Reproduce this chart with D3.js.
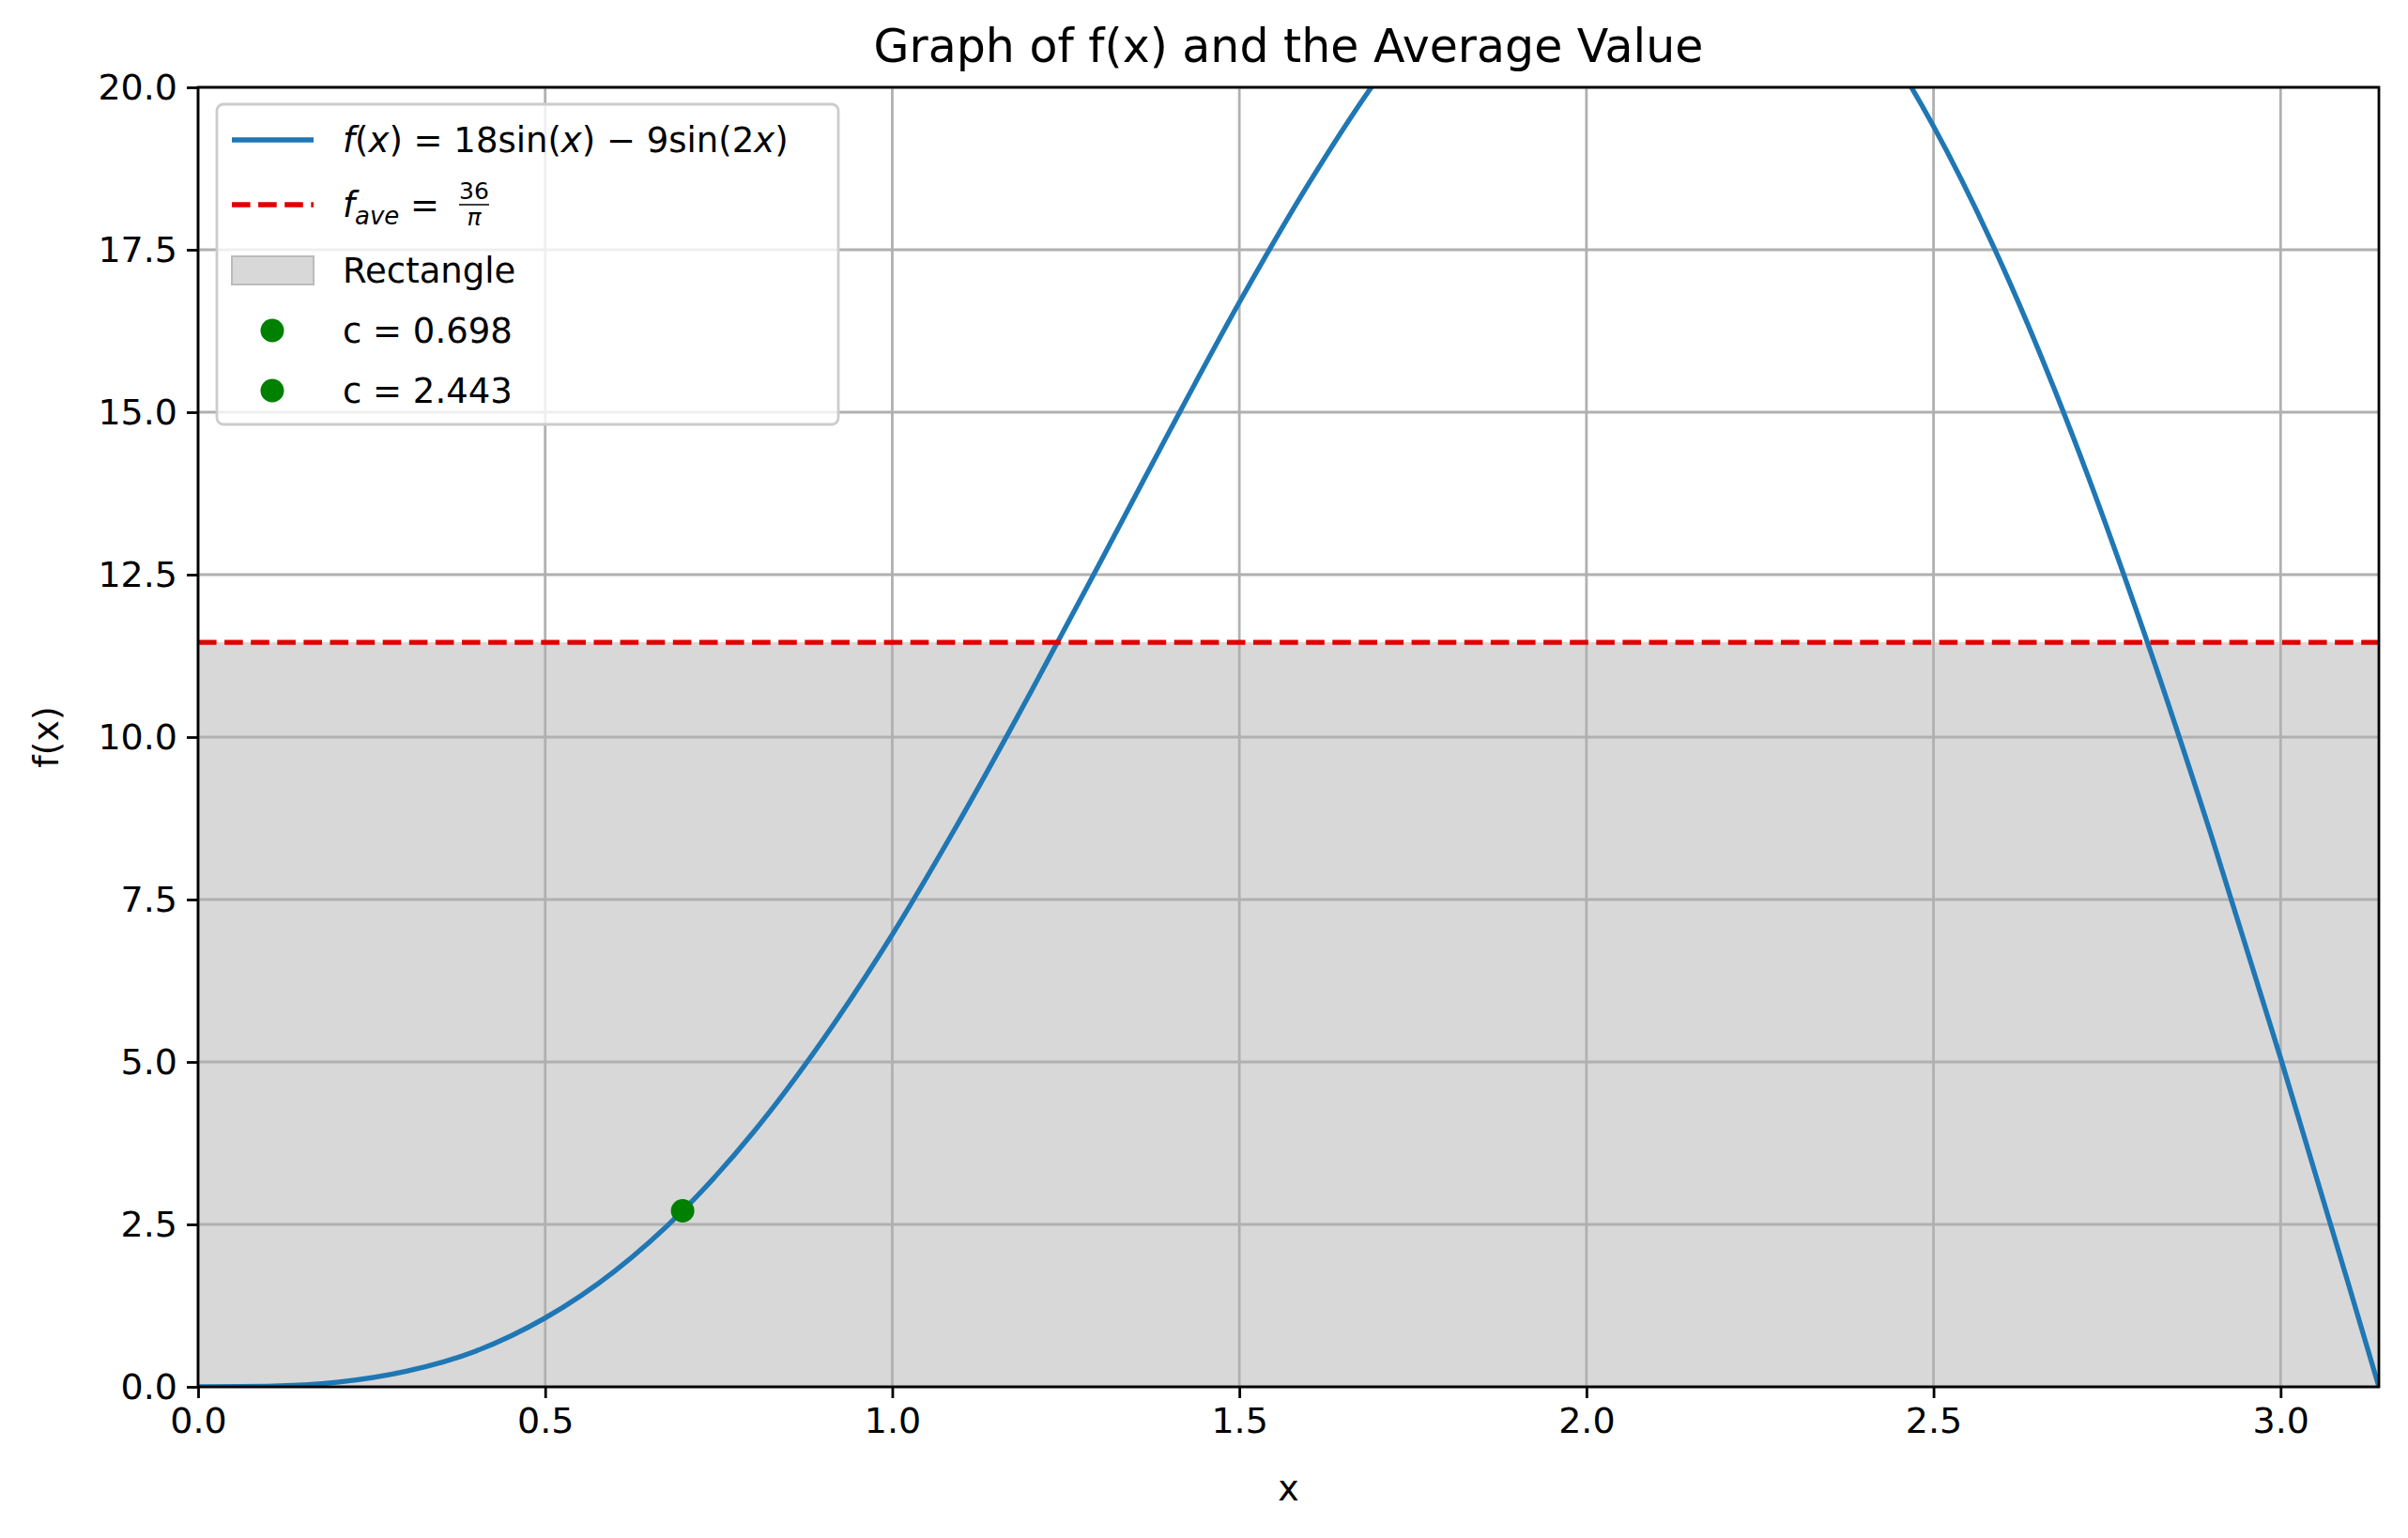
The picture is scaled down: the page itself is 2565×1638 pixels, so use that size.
<!DOCTYPE html>
<html><head><meta charset="utf-8">
<script src="https://cdn.jsdelivr.net/npm/d3@7"></script>
<style>body{margin:0;background:#fff}text{font-family:"DejaVu Sans",sans-serif}</style>
</head><body><div id="chart"></div>
<script>
// values
const curveX = [0, 0.1, 0.2, 0.3, 0.4, 0.5, 0.6, 0.7, 0.8, 0.9, 1.0, 1.1, 1.2, 1.3, 1.4, 1.5, 1.6, 1.7, 1.8, 1.9, 2.0, 2.1, 2.2, 2.3, 2.4, 2.5, 2.6, 2.7, 2.8, 2.9, 3.0, 3.1, 3.1416];
const curveY = [0, 0.01, 0.07, 0.24, 0.55, 1.06, 1.78, 2.73, 3.92, 5.34, 6.96, 8.77, 10.70, 12.70, 14.72, 16.69, 18.52, 20.15, 21.51, 22.54, 23.18, 23.38, 23.12, 22.37, 21.13, 19.40, 17.23, 14.65, 11.71, 8.49, 5.06, 1.50, 0];
const fAve = 11.459;
const cPoints = [[0.698, 2.71], [2.443, 20.3]];
const cLabels = ["c = 0.698", "c = 2.443"];
const xTicks = [0, 0.5, 1.0, 1.5, 2.0, 2.5, 3.0];
const yTicks = [0, 2.5, 5, 7.5, 10, 12.5, 15, 17.5, 20];

const W = 2565, H = 1638;
const m = { top: 93, right: 31, bottom: 161, left: 211 };
const width = W - m.left - m.right, height = H - m.top - m.bottom;

const svg = d3.select("#chart").append("svg").attr("width", W).attr("height", H);
const g = svg.append("g").attr("transform", `translate(${m.left},${m.top})`);

const x = d3.scaleLinear().domain([0, Math.PI]).range([0, width]);
const y = d3.scaleLinear().domain([0, 20]).range([height, 0]);

g.append("defs").append("clipPath").attr("id", "clip")
    .append("rect").attr("width", width).attr("height", height);

// rectangle
g.append("rect")
    .attr("x", x(0)).attr("y", y(fAve))
    .attr("width", x(Math.PI) - x(0)).attr("height", y(0) - y(fAve))
    .attr("fill", "#d8d8d8");

// grid
g.selectAll(".gx").data(xTicks).enter().append("line")
    .attr("x1", d => x(d)).attr("x2", d => x(d)).attr("y1", 0).attr("y2", height)
    .attr("stroke", "#b0b0b0").attr("stroke-width", 2.8);
g.selectAll(".gy").data(yTicks).enter().append("line")
    .attr("y1", d => y(d)).attr("y2", d => y(d)).attr("x1", 0).attr("x2", width)
    .attr("stroke", "#b0b0b0").attr("stroke-width", 2.8);

// curve
const line = d3.line().x((d, i) => x(curveX[i])).y(d => y(d)).curve(d3.curveMonotoneX);
g.append("path").datum(curveY).attr("d", line).attr("clip-path", "url(#clip)")
    .attr("fill", "none").attr("stroke", "#1f77b4").attr("stroke-width", 5.3);

// average
g.append("line").attr("x1", 0).attr("x2", width).attr("y1", y(fAve)).attr("y2", y(fAve))
    .attr("stroke", "#e00000").attr("stroke-width", 5.3).attr("stroke-dasharray", "19.6,8.5");

g.selectAll(".c").data(cPoints).enter().append("circle").attr("clip-path", "url(#clip)")
    .attr("cx", d => x(d[0])).attr("cy", d => y(d[1])).attr("r", 12.5).attr("fill", "green");

// axes
const xa = g.append("g").attr("transform", `translate(0,${height})`)
    .call(d3.axisBottom(x).tickValues(xTicks).tickFormat(d3.format(".1f")).tickSize(12).tickPadding(10));
const ya = g.append("g")
    .call(d3.axisLeft(y).tickValues(yTicks).tickFormat(d3.format(".1f")).tickSize(12).tickPadding(10));
[xa, ya].forEach(a => {
    a.selectAll("text").style("font-size", "38px").attr("fill", "#000");
    a.selectAll("line").attr("stroke-width", 2.8);
    a.select(".domain").remove();
});
g.append("rect").attr("width", width).attr("height", height)
    .attr("fill", "none").attr("stroke", "#000").attr("stroke-width", 2.8);

svg.append("text").attr("x", m.left + width / 2).attr("y", 66).attr("text-anchor", "middle")
    .style("font-size", "49px").text("Graph of f(x) and the Average Value");
svg.append("text").attr("x", m.left + width / 2).attr("y", 1598).attr("text-anchor", "middle")
    .style("font-size", "38px").text("x");
svg.append("text").attr("transform", `translate(62,${m.top + height / 2}) rotate(-90)`)
    .attr("text-anchor", "middle").style("font-size", "38px").text("f(x)");

// legend
const lg = svg.append("g");
lg.append("rect").attr("x", 231).attr("y", 111).attr("width", 662).attr("height", 341).attr("rx", 7)
    .attr("fill", "#fff").attr("fill-opacity", 0.8).attr("stroke", "#ccc").attr("stroke-width", 2.8);
const rows = [149, 218, 288, 352, 416];
lg.append("line").attr("x1", 247).attr("x2", 334).attr("y1", rows[0]).attr("y2", rows[0])
    .attr("stroke", "#1f77b4").attr("stroke-width", 5.3);
lg.append("line").attr("x1", 247).attr("x2", 334).attr("y1", rows[1]).attr("y2", rows[1])
    .attr("stroke", "#e00000").attr("stroke-width", 5.3).attr("stroke-dasharray", "19.6,8.5");
lg.append("rect").attr("x", 247).attr("y", rows[2] - 15).attr("width", 87).attr("height", 30)
    .attr("fill", "#d8d8d8").attr("stroke", "#bbb").attr("stroke-width", 2);
cLabels.forEach((t, i) => {
    lg.append("circle").attr("cx", 290).attr("cy", rows[3 + i]).attr("r", 12.5).attr("fill", "green");
    lg.append("text").attr("x", 365).attr("y", rows[3 + i] + 13).style("font-size", "37px").text(t);
});
const t1 = lg.append("text").attr("x", 365).attr("y", rows[0] + 13).style("font-size", "37px");
t1.append("tspan").attr("font-style", "italic").text("f");
t1.append("tspan").text("(");
t1.append("tspan").attr("font-style", "italic").text("x");
t1.append("tspan").text(") = 18sin(");
t1.append("tspan").attr("font-style", "italic").text("x");
t1.append("tspan").text(") − 9sin(2");
t1.append("tspan").attr("font-style", "italic").text("x");
t1.append("tspan").text(")");
const t2 = lg.append("text").attr("x", 365).attr("y", rows[1] + 13).style("font-size", "37px");
t2.append("tspan").attr("font-style", "italic").text("f");
t2.append("tspan").attr("font-style", "italic").attr("dy", 8).style("font-size", "26px").text("ave");
t2.append("tspan").attr("dy", -8).text(" =");
lg.append("text").attr("x", 505).attr("y", rows[1] - 6).attr("text-anchor", "middle").style("font-size", "25px").text("36");
lg.append("line").attr("x1", 489).attr("x2", 521).attr("y1", rows[1]).attr("y2", rows[1]).attr("stroke", "#000").attr("stroke-width", 1.5);
lg.append("text").attr("x", 505).attr("y", rows[1] + 22).attr("text-anchor", "middle").attr("font-style", "italic").style("font-size", "25px").text("π");
lg.append("text").attr("x", 365).attr("y", rows[2] + 13).style("font-size", "37px").text("Rectangle");
</script></body></html>
